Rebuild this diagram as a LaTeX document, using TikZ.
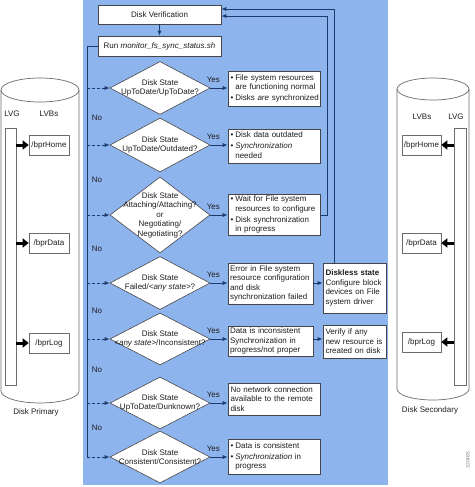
\documentclass[tikz,border=0pt]{standalone}
\usepackage{fontspec}
\setmainfont{Liberation Sans}
\usetikzlibrary{shapes.geometric,arrows.meta,calc}
\definecolor{panel}{RGB}{142,180,238}
\definecolor{navy}{RGB}{28,58,108}
\definecolor{edge}{RGB}{70,70,70}
\definecolor{txt}{RGB}{30,30,30}
\newcommand\bul{\textbullet}
\begin{document}
\begin{tikzpicture}[x=1pt,y=-1pt,
  every node/.style={font=\fontsize{8}{9.5}\selectfont, text=txt},
  box/.style={draw=edge, fill=white, line width=0.6pt, inner xsep=2.5pt, inner ysep=1pt, align=left, execute at begin node={\hyphenpenalty=10000}},
  cbox/.style={draw=edge, fill=white, line width=0.6pt, inner sep=1pt, align=center},
  dia/.style={draw=edge, fill=white, line width=0.6pt, diamond, inner sep=0pt, minimum width=100pt},
  conn/.style={draw=navy, line width=0.8pt},
  arr/.style={conn, -{Latex[length=5pt,width=4pt]}},
  darr/.style={arr, dash pattern=on 3pt off 2pt},
  lbl/.style={inner sep=0pt},
  cyl/.style={draw=edge!80, line width=0.7pt},
  lvb/.style={draw=edge!80, fill=white, line width=0.6pt, minimum width=40pt, minimum height=20pt, inner sep=0pt},
  barbox/.style={draw=edge!80, fill=white, line width=0.6pt, inner sep=0pt},
  fat/.style={draw=black, line width=3pt, -{Triangle[length=6pt,width=9pt]}}
]
\useasboundingbox (0,0) rectangle (474,487);
\fill[panel] (83,0) rectangle (388,485);

% top boxes
\node[cbox, minimum width=123pt, minimum height=19pt] (verif) at (159.5,14.5) {Disk Verification};
\node[cbox, minimum width=123pt, minimum height=20pt] (run) at (159.5,46) {Run \textit{monitor\_fs\_sync\_status.sh}};
\draw[arr] (verif) -- (run);

% diamonds
\node[dia, minimum height=53pt] (d1) at (160,88) {};
\node[dia, minimum height=54pt] (d2) at (160,145) {};
\node[dia, minimum height=76pt] (d3) at (160,215) {};
\node[dia, minimum height=53pt] (d4) at (160,283) {};
\node[dia, minimum height=52pt] (d5) at (160,339) {};
\node[dia, minimum height=52pt] (d6) at (160,403) {};
\node[dia, minimum height=52pt] (d7) at (160,457) {};
\node[align=center] (t1) at (d1) {Disk State\\UpToDate/UpToDate?};
\node[align=center] (t2) at (d2) {Disk State\\UpToDate/Outdated?};
\node[align=center] (t3) at (d3) {Disk State\\Attaching/Attaching?\\or\\Negotiating/\\Negotiating?};
\node[align=center] (t4) at (d4) {Disk State\\Failed/\textit{<any state>}?};
\node[align=center] (t5) at (d5) {Disk State\\\textit{<any state>}/Inconsistent?};
\node[align=center] (t6) at (d6) {Disk State\\UpToDate/Dunknown?};
\node[align=center] (t7) at (d7) {Disk State\\Consistent/Consistent?};

% result boxes
\node[box, minimum width=92pt, minimum height=35pt, text width=87pt] (b1) at (274,88.5)
  {\begin{tabular}{@{}l@{\hspace{2pt}}l@{}}\bul & File system resources\\ & are functioning normal\\[1.5pt] \bul & Disks \textit{are} synchronized\end{tabular}};
\node[box, minimum width=92pt, minimum height=34pt, text width=87pt] (b2) at (274,146)
  {\begin{tabular}{@{}l@{\hspace{2pt}}l@{}}\bul & Disk data outdated\\[1.5pt] \bul & \textit{Synchronization}\\ & needed\end{tabular}};
\node[box, minimum width=92pt, minimum height=40pt, text width=87pt] (b3) at (274,215)
  {\begin{tabular}{@{}l@{\hspace{2pt}}l@{}}\bul & Wait for File system\\ & resources to configure\\[1.5pt] \bul & Disk synchronization\\ & in progress\end{tabular}};
\node[box, inner xsep=2pt, minimum width=85pt, minimum height=41pt, text width=81pt] (b4) at (270.5,283.5)
  {Error in File system\\resource configuration\\and disk\\synchronization failed};
\node[box, minimum width=63pt, minimum height=50pt, text width=58pt] (dl) at (354.5,288)
  {\textbf{Diskless state}\\Configure block\\devices on File\\system driver};
\node[box, inner xsep=2pt, minimum width=85pt, minimum height=30pt, text width=81pt] (b5) at (270.5,341)
  {Data is inconsistent\\Synchronization in\\progress/not proper};
\node[box, minimum width=63pt, minimum height=33pt, text width=58pt] (vf) at (354.5,341.5)
  {Verify if any\\new resource is\\created on disk};
\node[box, minimum width=92pt, minimum height=32pt, text width=87pt] (b6) at (274,399)
  {No network connection\\available to the remote\\disk};
\node[box, minimum width=92pt, minimum height=35pt, text width=87pt] (b7) at (274,456.5)
  {\begin{tabular}{@{}l@{\hspace{2pt}}l@{}}\bul & Data is consistent\\[1.5pt] \bul & \textit{Synchronization} in\\ & progress\end{tabular}};

% yes arrows and labels
\foreach \d/\b/\y in {d1/b1/y1,d2/b2/y2,d3/b3/y3,d4/b4/y4,d5/b5/y5,d6/b6/y6,d7/b7/y7}{
  \draw[arr] (\d.east) -- (\d.east -| \b.west);
  \node[lbl] (\y) at ($(\d.east)+(3,-8)$) {Yes};
}
\draw[arr] (b4.east |- d4.east) -- (d4.east -| dl.west);
\draw[arr] (b5.east |- d5.east) -- (d5.east -| vf.west);

% trunk and No labels
\coordinate (trunk) at (87,46);
\draw[conn] (run.west) -- (trunk) -- (trunk |- d7.west);
\foreach \d in {d1,d2,d3,d4,d5,d6,d7}{
  \draw[darr] (\d.west -| trunk) -- (\d.west);
}
\node[lbl] (n1) at (97,118) {No};
\node[lbl] (n2) at (97,180) {No};
\node[lbl] (n3) at (97,249) {No};
\node[lbl] (n4) at (97,311) {No};
\node[lbl] (n5) at (97,370) {No};
\node[lbl] (n6) at (97,428) {No};

% feedback loops
\coordinate (o1) at (334,9);
\coordinate (i1) at (327,16);
\draw[arr] (dl.north -| o1) -- (o1) -- (o1 -| verif.east);
\draw[arr] (b3.east) -- (b3.east -| i1) -- (i1) -- (i1 -| verif.east);

% left cylinder
\draw[cyl] (1,90) -- (1,391) .. controls (1,397.6) and (18.5,403) .. (40,403) .. controls (61.5,403) and (79,397.6) .. (79,391) -- (79,90);
\draw[cyl] (40,90) ellipse [x radius=39, y radius=12];
\node (lvg1) at (12,114) {LVG};
\node (lvbs1) at (49,114) {LVBs};
\node[barbox, minimum width=11pt, minimum height=257pt] (lbar) at (10.5,256.5) {};
\node[lvb] (lh) at (49,145) {/bprHome};
\node[lvb] (ld) at (49,243) {/bprData};
\node[lvb] (ll) at (49,343) {/bprLog};
\foreach \b in {lh,ld,ll}{ \draw[fat] (lbar.east |- \b.west) -- (\b.west); }
\node (dp) at (36,412) {Disk Primary};

% right cylinder
\draw[cyl] (397,89) -- (397,389) .. controls (397,395.1) and (413.1,400) .. (433,400) .. controls (452.9,400) and (469,395.1) .. (469,389) -- (469,89);
\draw[cyl] (433,89) ellipse [x radius=36, y radius=11];
\node (lvbs2) at (422,117) {LVBs};
\node (lvg2) at (456,117) {LVG};
\node[barbox, minimum width=12pt, minimum height=257pt] (rbar) at (460,256.5) {};
\node[lvb, minimum width=39pt] (rh) at (421.5,145) {/bprHome};
\node[lvb, minimum width=39pt] (rd) at (421.5,243) {/bprData};
\node[lvb, minimum width=39pt] (rl) at (421.5,342) {/bprLog};
\foreach \b in {rh,rd,rl}{ \draw[fat] (rbar.west |- \b.east) -- (\b.east); }
\node (ds) at (430,410) {Disk Secondary};

\node[rotate=90, font=\fontsize{5}{6}\selectfont, text=gray] (fig) at (468,460) {320485};
\end{tikzpicture}
\end{document}
